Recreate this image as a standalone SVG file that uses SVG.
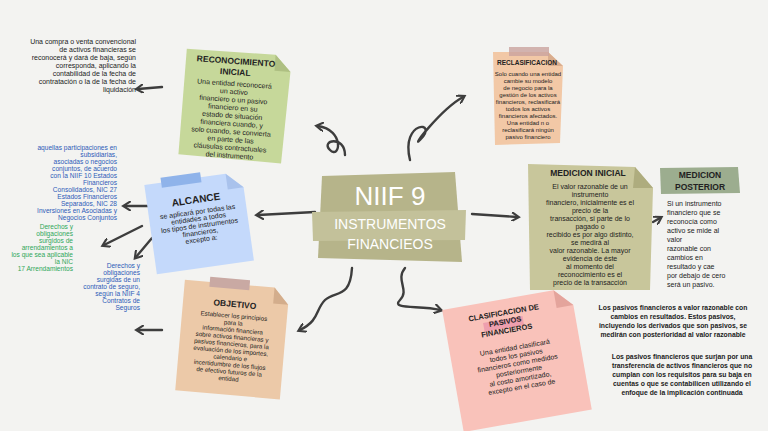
<svg xmlns="http://www.w3.org/2000/svg" width="768" height="431" viewBox="0 0 768 431">
<defs>
<style>
.t{font-family:"Liberation Sans",Arial,sans-serif;fill:#222;}
.s{font-size:7px;}
.h{font-size:8.5px;font-weight:bold;}
.b{fill:#2d5bb8;font-size:6.6px;}
.g{fill:#2fa75a;font-size:6.6px;}
.bk{font-size:6.8px;font-weight:bold;}
.c{stroke:#3d3d3d;stroke-width:2.4;fill:none;stroke-linecap:round;}
</style>
<marker id="a" viewBox="0 0 10 10" refX="6" refY="5" markerWidth="4" markerHeight="4" orient="auto"><path d="M0,0L8,5L0,10" fill="none" stroke="#3d3d3d" stroke-width="2.2"/></marker>
</defs>
<rect width="768" height="431" fill="#f3f3f1"/>

<g id="connectors">
<path class="c" d="M162,87 L138,89" marker-end="url(#a)"/>
<path class="c" d="M345,155 C345,135 320,140 330,150 C340,160 345,130 318,126" marker-end="url(#a)"/>
<path class="c" d="M410,160 C400,120 440,120 420,140 C410,150 440,110 463,97" marker-end="url(#a)"/>
<path class="c" d="M315,212 L258,215" marker-end="url(#a)"/>
<path class="c" d="M148,206 L125,206" marker-end="url(#a)"/>
<path class="c" d="M142,226 L104,245" marker-end="url(#a)"/>
<path class="c" d="M152,238 L136,257" marker-end="url(#a)"/>
<path class="c" d="M472,214 L517,217" marker-end="url(#a)"/>
<path class="c" d="M653,222 L660,218" marker-end="url(#a)"/>
<path class="c" d="M352,268 C350,300 335,290 325,300 C315,310 320,320 300,330" marker-end="url(#a)"/>
<path class="c" d="M405,268 C395,280 410,290 400,300 C390,310 420,305 440,310" marker-end="url(#a)"/>
<path class="c" d="M162,330 L138,330" marker-end="url(#a)"/>
</g>

<g id="center">
<path d="M322,176 L455,172 L462,262 L318,258 Z" fill="#b6b48a"/>
<path d="M312,212 L466,210 L465,240 L313,241 Z" fill="#c3c19a"/>
<text class="t" x="390" y="205" text-anchor="middle" style="font-size:26px;fill:#fff">NIIF 9</text>
<text class="t" x="390" y="229" text-anchor="middle" style="font-size:14px;fill:#fff">INSTRUMENTOS</text>
<text class="t" x="390" y="249" text-anchor="middle" style="font-size:14px;fill:#fff">FINANCIEOS</text>
</g>

<g id="nota-compra" class="t s" text-anchor="end">
<text x="136" y="44">Una compra o venta convencional</text>
<text x="136" y="52">de activos financieras se</text>
<text x="136" y="60">reconocerá y dará de baja, según</text>
<text x="136" y="68">corresponda, aplicando la</text>
<text x="136" y="76">contabilidad de la fecha de</text>
<text x="136" y="84">contratación o la de la fecha de</text>
<text x="136" y="92">liquidación</text>
</g>

<g id="reconocimiento" transform="rotate(4 233 105)">
<path d="M183,52 L272,52 L288,68 L285,160 L182,158 Z" fill="#c6d89a"/>
<path d="M272,52 L272,68 L288,68 Z" fill="#aebf82"/>
<g class="t" text-anchor="middle">
<text class="h" x="233" y="64">RECONOCIMIENTO</text>
<text class="h" x="233" y="75">INICIAL</text>
<g class="s">
<text x="233" y="86">Una entidad reconocerá</text>
<text x="233" y="94">un activo</text>
<text x="233" y="102">financiero o un pasivo</text>
<text x="233" y="110">financiero en su</text>
<text x="233" y="118">estado de situación</text>
<text x="233" y="126">financiera cuando, y</text>
<text x="233" y="134">solo cuando, se convierta</text>
<text x="233" y="142">en parte de las</text>
<text x="233" y="150">cláusulas contractuales</text>
<text x="233" y="158">del instrumento</text>
</g></g></g>

<g id="reclasificacion">
<path d="M493,52 L548,52 L563,66 L560,143 L495,145 Z" fill="#f2c8a6"/>
<path d="M548,52 L548,66 L563,66 Z" fill="#d9ad8e"/>
<rect x="509" y="47" width="40" height="9" fill="#c9a39f" opacity="0.8"/>
<g class="t" text-anchor="middle">
<text class="h" x="527" y="65" style="font-size:6.5px">RECLASIFICACION</text>
<g style="font-size:6px">
<text x="528" y="76">Solo cuando una entidad</text>
<text x="528" y="83">cambie su modelo</text>
<text x="528" y="90">de negocio para la</text>
<text x="528" y="97">gestión de los activos</text>
<text x="528" y="104">financieros, reclasificará</text>
<text x="528" y="111">todos los activos</text>
<text x="528" y="118">financieros afectados.</text>
<text x="528" y="125">Una entidad n o</text>
<text x="528" y="132">reclasificará ningún</text>
<text x="528" y="139">pasivo financiero</text>
</g></g></g>

<g id="alcance" transform="rotate(-8 198 222)">
<path d="M150,178 L232,178 L248,194 L248,268 L150,268 Z" fill="#c4d9fb"/>
<path d="M232,178 L232,194 L248,194 Z" fill="#a9c2ec"/>
<rect x="167" y="173" width="40" height="10" fill="#8fb3ea"/>
<g class="t" text-anchor="middle">
<text class="h" x="199" y="203" style="font-size:10px">ALCANCE</text>
<g class="s">
<text x="199" y="214">se aplicará por todas las</text>
<text x="199" y="221">entidades a todos</text>
<text x="199" y="228">los tipos de instrumentos</text>
<text x="199" y="235">financieros,</text>
<text x="199" y="242">excepto a:</text>
</g></g></g>

<g id="excepciones" class="t" text-anchor="end">
<g class="b">
<text x="117" y="150">aquellas participaciones en</text>
<text x="117" y="157">subsidiarias,</text>
<text x="117" y="164">asociadas o negocios</text>
<text x="117" y="171">conjuntos, de acuerdo</text>
<text x="117" y="178">con la NIIF 10 Estados</text>
<text x="117" y="185">Financieros</text>
<text x="117" y="192">Consolidados, NIC 27</text>
<text x="117" y="199">Estados Financieros</text>
<text x="117" y="206">Separados, NIC 28</text>
<text x="117" y="213">Inversiones en Asociadas y</text>
<text x="117" y="220">Negocios Conjuntos</text>
</g>
<g class="g">
<text x="73" y="229">Derechos y</text>
<text x="73" y="236">obligaciones</text>
<text x="73" y="243">surgidos de</text>
<text x="73" y="250">arrendamientos a</text>
<text x="73" y="257">los que sea aplicable</text>
<text x="73" y="264">la NIC</text>
<text x="73" y="271">17 Arrendamientos</text>
</g>
<g class="b">
<text x="140" y="268">Derechos y</text>
<text x="140" y="275">obligaciones</text>
<text x="140" y="282">surgidas de un</text>
<text x="140" y="289">contrato de seguro,</text>
<text x="140" y="296">según la NIIF 4</text>
<text x="140" y="303">Contratos de</text>
<text x="140" y="310">Seguros</text>
</g></g>

<g id="objetivo" transform="rotate(5 232 338)">
<path d="M180,284 L270,284 L285,300 L285,395 L180,395 Z" fill="#ecc9a8"/>
<path d="M270,284 L270,300 L285,300 Z" fill="#d3ad8c"/>
<rect x="205" y="279" width="40" height="10" fill="#c9a9a3"/>
<g class="t" text-anchor="middle">
<text class="h" x="232" y="307">OBJETIVO</text>
<g style="font-size:6.2px">
<text x="232" y="318">Establecer los principios</text>
<text x="232" y="325">para la</text>
<text x="232" y="332">información financiera</text>
<text x="232" y="339">sobre activos financieras y</text>
<text x="232" y="346">pasivos financieros, para la</text>
<text x="232" y="353">evaluación de los importes,</text>
<text x="232" y="360">calendario e</text>
<text x="232" y="367">incertidumbre de los flujos</text>
<text x="232" y="374">de efectivo futuros de la</text>
<text x="232" y="381">entidad</text>
</g></g></g>

<g id="medicion-inicial">
<path d="M528,164 L635,167 L653,188 L650,290 L530,290 Z" fill="#c8c69b"/>
<path d="M635,167 L633,188 L653,188 Z" fill="#aeac7e"/>
<g class="t" text-anchor="middle">
<text class="h" x="588" y="176">MEDICION INICIAL</text>
<g class="s">
<text x="590" y="189">El valor razonable de un</text>
<text x="590" y="197">instrumento</text>
<text x="590" y="205">financiero, inicialmente es el</text>
<text x="590" y="213">precio de la</text>
<text x="590" y="221">transacción, si parte de lo</text>
<text x="590" y="229">pagado o</text>
<text x="590" y="237">recibido es por algo distinto,</text>
<text x="590" y="245">se medirá al</text>
<text x="590" y="253">valor razonable. La mayor</text>
<text x="590" y="261">evidencia de éste</text>
<text x="590" y="269">al momento del</text>
<text x="590" y="277">reconocimiento es el</text>
<text x="590" y="285">precio de la transacción</text>
</g></g></g>

<g id="medicion-posterior">
<path d="M660,168 L738,167 L740,193 L661,194 Z" fill="#9cad8f"/>
<g class="t" text-anchor="middle">
<text class="h" x="700" y="178">MEDICION</text>
<text class="h" x="700" y="190">POSTERIOR</text>
</g>
<g class="t s">
<text x="667" y="206">Si un instrumento</text>
<text x="667" y="215">financiero que se</text>
<text x="667" y="224">reconocía como</text>
<text x="667" y="233">activo se mide al</text>
<text x="667" y="242">valor</text>
<text x="667" y="251">razonable con</text>
<text x="667" y="260">cambios en</text>
<text x="667" y="269">resultado y cae</text>
<text x="667" y="278">por debajo de cero</text>
<text x="667" y="287">será un pasivo.</text>
</g></g>

<g id="clasificacion" transform="rotate(-10 515 360)">
<path d="M452,298 L565,298 L582,316 L582,422 L452,422 Z" fill="#f9c2ba"/>
<path d="M565,298 L565,316 L582,316 Z" fill="#e4a49c"/>
<rect x="490" y="318" width="40" height="9" fill="#ee9fae"/>
<g class="t" text-anchor="middle">
<text class="h" x="512" y="314" style="font-size:7.5px">CLASIFICACION DE</text>
<text class="h" x="512" y="323" style="font-size:7.5px">PASIVOS</text>
<text class="h" x="512" y="332" style="font-size:7.5px">FINANCIEROS</text>
<g class="s">
<text x="517" y="350">Una entidad clasificará</text>
<text x="517" y="358">todos los pasivos</text>
<text x="517" y="366">financieros como medidos</text>
<text x="517" y="374">posteriormente</text>
<text x="517" y="382">al costo amortizado,</text>
<text x="517" y="390">excepto en el caso de</text>
</g></g></g>

<g id="pasivos" class="t" text-anchor="middle">
<g class="bk">
<text x="673" y="310">Los pasivos financieros a valor razonable con</text>
<text x="673" y="319">cambios en resultados. Estos pasivos,</text>
<text x="673" y="328">incluyendo los derivados que son pasivos, se</text>
<text x="673" y="337">medirán con posterioridad al valor razonable</text>
<text x="682" y="359">Los pasivos financieros que surjan por una</text>
<text x="682" y="368">transferencia de activos financieros que no</text>
<text x="682" y="377">cumplan con los requisitos para su baja en</text>
<text x="682" y="386">cuentas o que se contabilicen utilizando el</text>
<text x="682" y="395">enfoque de la implicación continuada</text>
</g></g>
</svg>
